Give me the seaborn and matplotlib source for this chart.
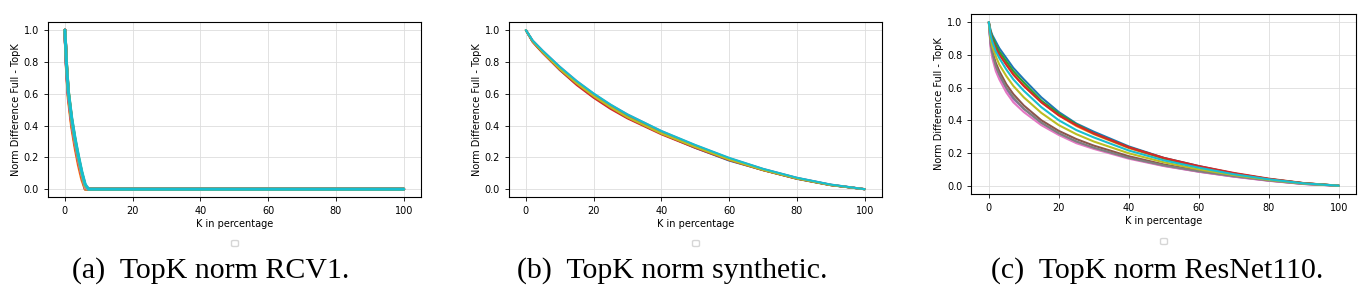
import numpy as np
import pandas as pd
import matplotlib
matplotlib.use("Agg")
import matplotlib.pyplot as plt
import seaborn as sns

# ---- data ----
# (a) RCV1: norm drops to zero within the first ~7 percent
rcv1_k = [0, 0.5, 1, 2, 3, 4, 5, 6, 7, 100]
rcv1_runs = [
    [1.0, 0.76, 0.60, 0.42, 0.29, 0.18, 0.08, 0.0, 0.0, 0.0],
    [1.0, 0.74, 0.57, 0.39, 0.26, 0.15, 0.06, 0.0, 0.0, 0.0],
    [1.0, 0.77, 0.61, 0.43, 0.30, 0.19, 0.09, 0.01, 0.0, 0.0],
    [1.0, 0.75, 0.59, 0.41, 0.28, 0.17, 0.08, 0.01, 0.0, 0.0],
    [1.0, 0.76, 0.60, 0.43, 0.30, 0.19, 0.09, 0.02, 0.0, 0.0],
    [1.0, 0.77, 0.61, 0.44, 0.31, 0.20, 0.10, 0.02, 0.0, 0.0],
    [1.0, 0.76, 0.60, 0.42, 0.29, 0.18, 0.09, 0.01, 0.0, 0.0],
    [1.0, 0.77, 0.61, 0.43, 0.30, 0.19, 0.10, 0.02, 0.0, 0.0],
    [1.0, 0.78, 0.62, 0.44, 0.31, 0.20, 0.10, 0.02, 0.0, 0.0],
    [1.0, 0.78, 0.62, 0.45, 0.32, 0.21, 0.11, 0.03, 0.0, 0.0],
]

# (b) synthetic: smooth convex decay
synth_k = [0, 2, 5, 10, 15, 20, 25, 30, 40, 50, 60, 70, 80, 90, 100]
synth_runs = [
    [1.0, 0.93, 0.86, 0.75, 0.66, 0.58, 0.51, 0.45, 0.35, 0.26, 0.18, 0.12, 0.065, 0.025, 0.0],
    [1.0, 0.93, 0.86, 0.76, 0.66, 0.59, 0.52, 0.45, 0.35, 0.265, 0.185, 0.12, 0.067, 0.026, 0.0],
    [1.0, 0.93, 0.86, 0.76, 0.67, 0.59, 0.52, 0.46, 0.355, 0.27, 0.19, 0.123, 0.068, 0.027, 0.0],
    [1.0, 0.925, 0.855, 0.75, 0.655, 0.575, 0.505, 0.445, 0.345, 0.26, 0.183, 0.12, 0.066, 0.026, 0.0],
    [1.0, 0.93, 0.865, 0.765, 0.675, 0.595, 0.525, 0.465, 0.36, 0.272, 0.192, 0.125, 0.07, 0.028, 0.0],
    [1.0, 0.93, 0.86, 0.76, 0.67, 0.59, 0.52, 0.455, 0.352, 0.266, 0.187, 0.121, 0.067, 0.026, 0.0],
    [1.0, 0.935, 0.87, 0.77, 0.68, 0.60, 0.53, 0.47, 0.365, 0.276, 0.195, 0.127, 0.071, 0.028, 0.0],
    [1.0, 0.93, 0.865, 0.765, 0.675, 0.597, 0.527, 0.466, 0.362, 0.274, 0.193, 0.126, 0.07, 0.027, 0.0],
    [1.0, 0.93, 0.86, 0.755, 0.665, 0.585, 0.515, 0.452, 0.35, 0.265, 0.186, 0.121, 0.067, 0.026, 0.0],
    [1.0, 0.935, 0.87, 0.77, 0.68, 0.602, 0.532, 0.47, 0.366, 0.278, 0.197, 0.128, 0.072, 0.029, 0.0],
]

# (c) ResNet110: sharp initial drop then long tail
resnet_k = [0, 0.5, 1, 2, 3, 5, 7, 10, 15, 20, 25, 30, 40, 50, 60, 70, 80, 90, 100]
resnet_runs = [
    [1.0, 0.95, 0.92, 0.88, 0.84, 0.78, 0.72, 0.65, 0.54, 0.45, 0.38, 0.33, 0.24, 0.17, 0.12, 0.075, 0.04, 0.015, 0.0],
    [1.0, 0.93, 0.90, 0.85, 0.81, 0.74, 0.68, 0.61, 0.51, 0.43, 0.365, 0.315, 0.23, 0.165, 0.115, 0.073, 0.04, 0.015, 0.0],
    [1.0, 0.94, 0.91, 0.86, 0.82, 0.76, 0.70, 0.63, 0.52, 0.44, 0.375, 0.32, 0.235, 0.168, 0.117, 0.075, 0.041, 0.015, 0.0],
    [1.0, 0.93, 0.89, 0.84, 0.80, 0.74, 0.68, 0.61, 0.51, 0.43, 0.37, 0.32, 0.235, 0.17, 0.12, 0.078, 0.043, 0.016, 0.0],
    [1.0, 0.86, 0.80, 0.72, 0.67, 0.59, 0.53, 0.47, 0.385, 0.32, 0.27, 0.23, 0.17, 0.122, 0.086, 0.056, 0.031, 0.011, 0.0],
    [1.0, 0.88, 0.82, 0.75, 0.70, 0.62, 0.56, 0.49, 0.40, 0.335, 0.285, 0.245, 0.18, 0.13, 0.092, 0.06, 0.033, 0.012, 0.0],
    [1.0, 0.85, 0.78, 0.70, 0.65, 0.57, 0.51, 0.45, 0.37, 0.31, 0.26, 0.225, 0.165, 0.12, 0.085, 0.055, 0.03, 0.01, 0.0],
    [1.0, 0.87, 0.81, 0.73, 0.68, 0.60, 0.54, 0.47, 0.385, 0.32, 0.27, 0.232, 0.17, 0.124, 0.088, 0.058, 0.032, 0.011, 0.0],
    [1.0, 0.90, 0.85, 0.79, 0.74, 0.67, 0.61, 0.54, 0.445, 0.37, 0.315, 0.27, 0.198, 0.143, 0.1, 0.065, 0.036, 0.013, 0.0],
    [1.0, 0.92, 0.88, 0.82, 0.78, 0.71, 0.65, 0.58, 0.48, 0.40, 0.34, 0.295, 0.215, 0.155, 0.11, 0.07, 0.039, 0.014, 0.0],
]

captions = ["(a)  TopK norm RCV1.", "(b)  TopK norm synthetic.", "(c)  TopK norm ResNet110."]


def to_long(k, runs):
    rows = []
    for i, vals in enumerate(runs):
        for kk, v in zip(k, vals):
            rows.append({"k": kk, "norm": v, "run": i})
    return pd.DataFrame(rows)


sns.set_style("white")
plt.rcParams['font.family'] = ['DejaVu Sans']
plt.rcParams['text.color'] = 'black'
plt.rcParams['axes.labelcolor'] = 'black'
plt.rcParams['xtick.color'] = 'black'
plt.rcParams['ytick.color'] = 'black'

fig = plt.figure(figsize=(13.7, 2.96), dpi=100)

panels = [
    (to_long(rcv1_k, rcv1_runs), [0.035, 0.334, 0.272, 0.591], 2.2),
    (to_long(synth_k, synth_runs), [0.3715, 0.334, 0.272, 0.591], 1.5),
    (to_long(resnet_k, resnet_runs), [0.709, 0.345, 0.281, 0.608], 1.5),
]
caption_x = [211 / 1370, 672 / 1370, 1157 / 1370]
palette = sns.color_palette("tab10", 10)

for (df, rect, lw), cap, cx in zip(panels, captions, caption_x):
    ax = fig.add_axes(rect)
    sns.lineplot(data=df, x="k", y="norm", hue="run", palette=palette,
                 linewidth=lw, legend=False, ax=ax)
    ax.set_xlim(-5, 105)
    ax.set_ylim(-0.05, 1.05)
    ax.set_xticks([0, 20, 40, 60, 80, 100])
    ax.set_yticks([0.0, 0.2, 0.4, 0.6, 0.8, 1.0])
    ax.set_yticklabels(["0.0", "0.2", "0.4", "0.6", "0.8", "1.0"])
    ax.tick_params(labelsize=7, length=3, width=0.6, direction='out', bottom=True, left=True)
    ax.set_xlabel("K in percentage", fontsize=7, labelpad=2)
    ax.set_ylabel("Norm Difference Full - TopK", fontsize=7, labelpad=2)
    ax.grid(True, color='#dddddd', linewidth=0.6)
    for s in ax.spines.values():
        s.set_color('black')
        s.set_linewidth(0.8)
    # empty legend box below the x label
    leg = ax.legend(handles=[], loc='upper center', bbox_to_anchor=(0.5, -0.22),
                    frameon=True, fontsize=6)
    leg.get_frame().set_edgecolor('#cccccc')
    fig.text(cx, 0.085, cap, ha='center', va='center', color='black',
             fontsize=21.5, family=['Liberation Serif'])

fig.savefig("out.png", dpi=100)
